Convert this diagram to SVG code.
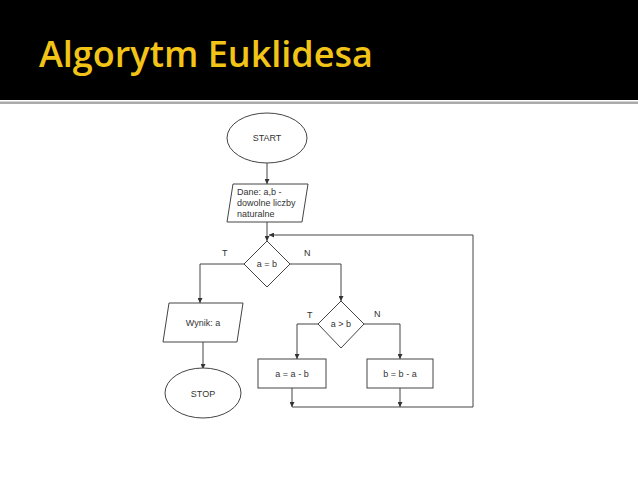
<svg xmlns="http://www.w3.org/2000/svg" width="638" height="478" viewBox="0 0 638 478">
<style>
.shape{fill:#ffffff;stroke:#444444;stroke-width:1}
.ln{fill:none;stroke:#444444;stroke-width:1}
.t{font-family:"Liberation Sans",Arial,sans-serif;font-size:9px;fill:#333333}
.c{text-anchor:middle}
.title{font-family:"Open Sans","Lato",sans-serif;font-weight:600;font-size:36px;fill:#f2c417}
</style>
<defs>
<marker id="ah" viewBox="0 0 6 6" refX="6" refY="3" markerWidth="5" markerHeight="5" orient="auto" markerUnits="userSpaceOnUse">
<path d="M0,0 L6,3 L0,6 z" fill="#333333"/>
</marker>
</defs>
<rect x="0" y="0" width="638" height="478" fill="#ffffff"/>
<rect x="0" y="0" width="638" height="100" fill="#000000"/>
<rect x="0" y="101.5" width="638" height="2.5" fill="#aaaaaa"/>
<text class="title" x="39" y="67" textLength="334" lengthAdjust="spacingAndGlyphs">Algorytm Euklidesa</text>

<g id="connectors">
<line class="ln" x1="267" y1="163" x2="267" y2="184" marker-end="url(#ah)"/>
<line class="ln" x1="267" y1="222" x2="267" y2="241" marker-end="url(#ah)"/>
<polyline class="ln" points="244,264 200,264 200,303" marker-end="url(#ah)"/>
<polyline class="ln" points="290,264 341,264 341,301" marker-end="url(#ah)"/>
<line class="ln" x1="203" y1="342" x2="203" y2="369" marker-end="url(#ah)"/>
<polyline class="ln" points="318,324 297,324 297,359" marker-end="url(#ah)"/>
<polyline class="ln" points="364,324 400,324 400,359" marker-end="url(#ah)"/>
<line class="ln" x1="292" y1="388" x2="292" y2="407" marker-end="url(#ah)"/>
<line class="ln" x1="400" y1="388" x2="400" y2="407" marker-end="url(#ah)"/>
<polyline class="ln" points="292,407 473,407 473,235 269,235" marker-end="url(#ah)"/>
<text class="t" x="222" y="256">T</text>
<text class="t" x="304" y="256">N</text>
<text class="t" x="307" y="318">T</text>
<text class="t" x="374" y="317">N</text>
</g>

<g id="start">
<ellipse class="shape" cx="267" cy="138" rx="40" ry="25"/>
<text class="t c" x="267" y="141">START</text>
</g>
<g id="input">
<polygon class="shape" points="233,184 308,184 302,222 227,222"/>
<text class="t" x="237" y="195">Dane: a,b -</text>
<text class="t" x="237" y="206">dowolne liczby</text>
<text class="t" x="237" y="217">naturalne</text>
</g>
<g id="cond1">
<polygon class="shape" points="267,241 290,264 267,287 244,264"/>
<text class="t c" x="267" y="267">a = b</text>
</g>
<g id="output">
<polygon class="shape" points="169,303 243,303 237,342 163,342"/>
<text class="t c" x="203" y="326">Wynik: a</text>
</g>
<g id="stop">
<ellipse class="shape" cx="203" cy="393" rx="38" ry="25"/>
<text class="t c" x="203" y="397">STOP</text>
</g>
<g id="cond2">
<polygon class="shape" points="341,301 364,324 341,348 318,324"/>
<text class="t c" x="341" y="327">a &gt; b</text>
</g>
<g id="sub1">
<rect class="shape" x="258" y="359" width="68" height="29"/>
<text class="t c" x="292" y="377">a = a - b</text>
</g>
<g id="sub2">
<rect class="shape" x="367" y="359" width="66" height="29"/>
<text class="t c" x="400" y="377">b = b - a</text>
</g>
</svg>
